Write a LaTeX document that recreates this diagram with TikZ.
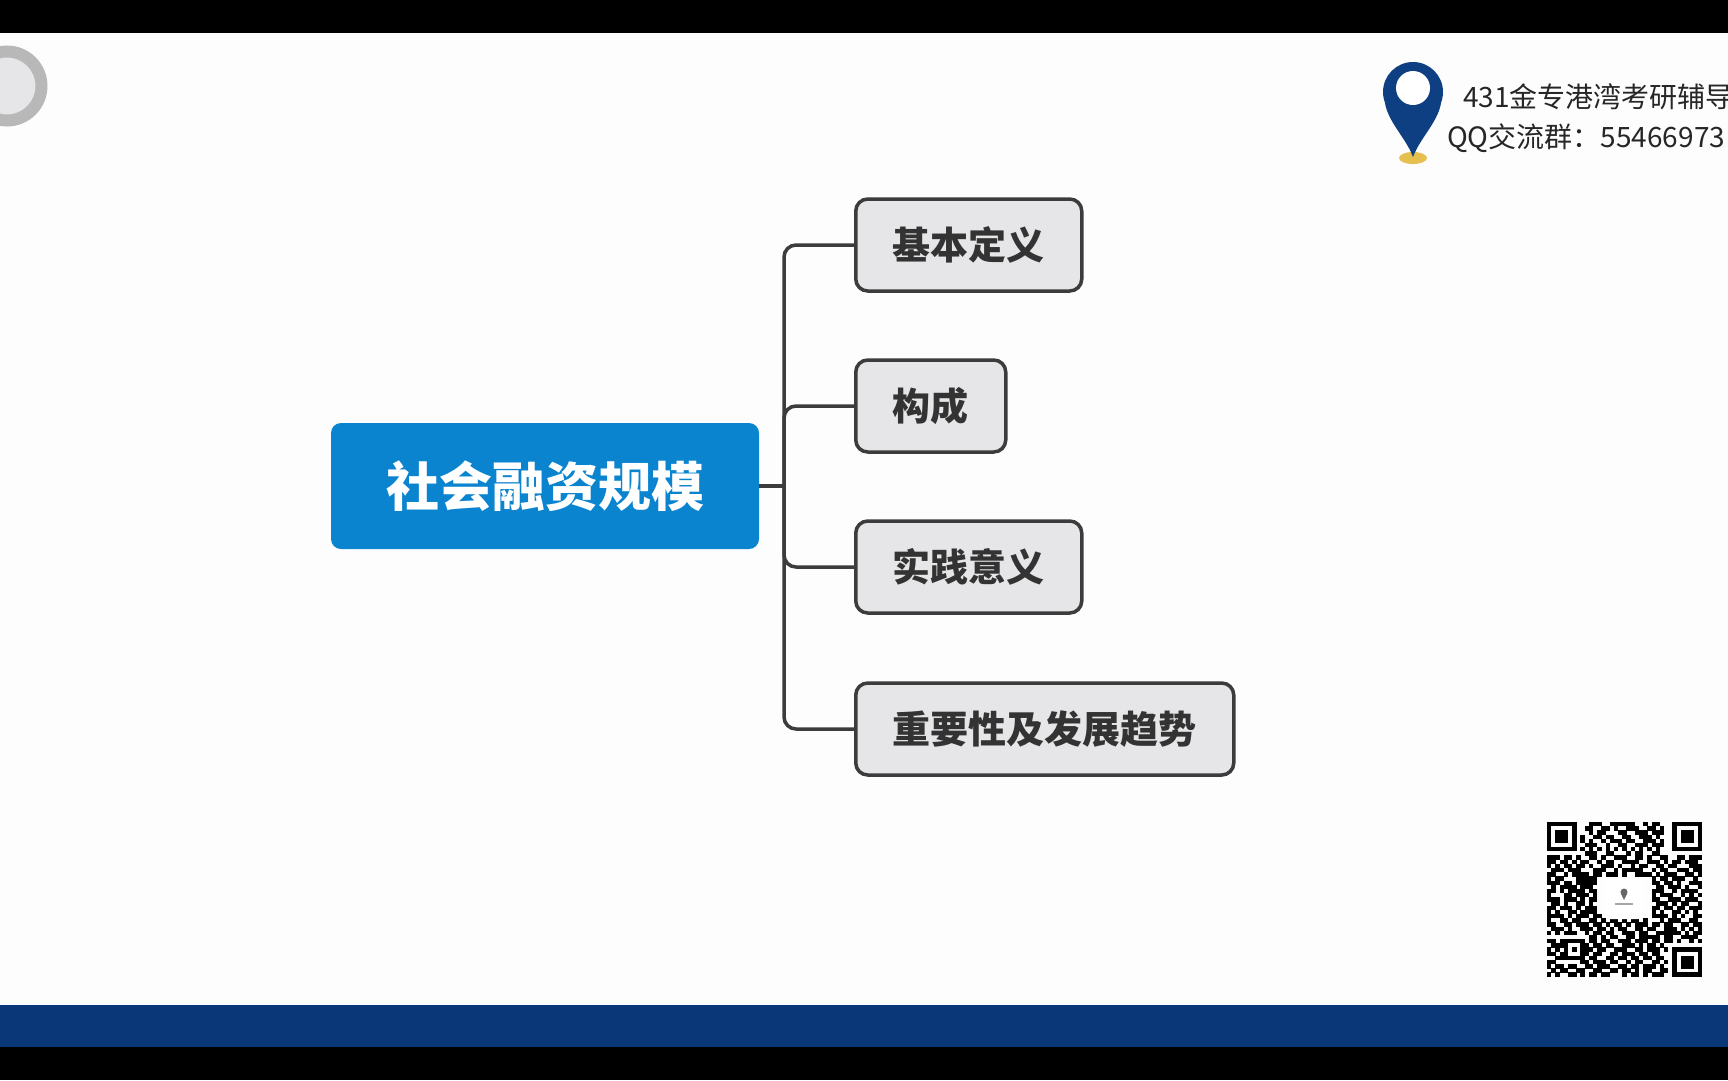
\documentclass[tikz,border=0pt]{standalone}
\usepackage{fontspec}
\usepackage{xcolor}
\setmainfont{Noto Sans CJK SC}

\definecolor{pageback}{HTML}{FDFDFD}
\definecolor{navyband}{HTML}{0A3778}
\definecolor{rootblue}{HTML}{0B84D0}
\definecolor{boxgrey}{HTML}{E6E5E8}
\definecolor{linegrey}{HTML}{3C3C3C}
\definecolor{pinblue}{HTML}{0E3F82}
\definecolor{pingold}{HTML}{E6C04E}

\tikzset{
    rootbox/.style={fill=rootblue, text=white, rounded corners=10pt, minimum width=428pt, minimum height=126pt, font=\fontsize{53}{60}\selectfont\bfseries},
    branchbox/.style={draw=linegrey, fill=boxgrey, line width=3.5pt, rounded corners=12pt, anchor=west, inner xsep=37pt, minimum height=92pt, font=\fontsize{38}{44}\selectfont\bfseries, text=black!80},
    link/.style={draw=linegrey, line width=3.5pt, rounded corners=12pt},
    infotext/.style={anchor=west, inner sep=0pt, font=\fontsize{28}{32}\selectfont, text=black!85}
}

\newcount\qrcol
\def\qrscan#1{\ifx.#1\let\qrnext\relax\else\if1#1\fill ({1547+\the\qrcol*4.18},{822+\qrrownum*4.18}) rectangle +(4.4,4.4);\fi\advance\qrcol by 1 \let\qrnext\qrscan\fi\qrnext}

\begin{document}
\begin{tikzpicture}[x=1pt, y=-1pt]
    \useasboundingbox (0,0) rectangle (1728,1080);
    \fill[pageback] (0,0) rectangle (1728,1080);
    \fill[black] (0,0) rectangle (1728,33);
    \fill[navyband] (0,1005) rectangle (1728,1047);
    \fill[black] (0,1047) rectangle (1728,1080);

    \filldraw[fill=boxgrey, draw=black!28, line width=12pt] (7,86) circle (34.5);

    \node[rootbox] (root) at (545,486) {社会融资规模};
    \node[branchbox] (define) at (854,245) {基本定义};
    \node[branchbox] (parts) at (854,406) {构成};
    \node[branchbox] (practice) at (854,567) {实践意义};
    \node[branchbox] (trend) at (854,729) {重要性及发展趋势};

    \coordinate (trunk) at (784,486);
    \draw[link] (root.east) -- (trunk);
    \draw[link] (trunk) |- (define.west);
    \draw[link] (trunk) |- (parts.west);
    \draw[link] (trunk) |- (practice.west);
    \draw[link] (trunk) |- (trend.west);

    \fill[pingold] (1413,158) ellipse (14 and 6);
    \fill[pinblue] (1413,92) circle (30);
    \fill[pinblue] (1413,157) .. controls (1406,138) and (1388,122) .. (1385,103) -- (1441,103) .. controls (1438,122) and (1420,138) .. (1413,157) -- cycle;
    \fill[white] (1413,88) circle (17);

    \begin{scope}
        \clip (0,0) rectangle (1728,1080);
        \node[infotext] (course) at (1463,97) {431金专港湾考研辅导};
        \node[infotext] (group) at (1447,138) {QQ交流群：55466973};
    \end{scope}

    \foreach \qrline [count=\qrrownum from 0] in {
        1111111 0 001110011111100101100 0 1111111,
        1000001 0 011001101001110011010 0 1000001,
        1011101 0 001011000110011101110 0 1011101,
        1011101 0 100110110011001110100 0 1011101,
        1011101 0 101001011101100111010 0 1011101,
        1000001 0 011100100110011101110 0 1000001,
        1111111 0 101010101010101010100 0 1111111,
        00000000 011100110001011001100 00000000,
        1110110100 1101001110 0110100110 0110111,
        1101101011 0010110011 1100111010 1101110,
        1010110110 1001110100 1011001101 1000111,
        0111011100 0111001011 1110010110 0111011,
        1100101111 0110111010 0111101011 1001101,
        1011000111 1100000000 0000010110 1110010,
        1110110111 1100000000 0000011011 0100111,
        0101111011 1000000000 0000001101 1101001,
        1101011110 1100000000 0000011100 1011110,
        1000110111 0100000000 0000010111 0010101,
        1110111010 1100000000 0000011001 1101110,
        0110100110 1000000000 0000001110 1011001,
        1101110101 1100000000 0000011011 0110111,
        1010011011 1100000000 0000010100 1101010,
        1111010111 0110000000 0000011110 1010011,
        1001101100 1101011010 1101000101 1100110,
        1100110111 0110101101 0111011011 0011011,
        0111010011 1011010110 0110110011 1010101,
        1010111001 0110110011 1011001111 1101011,
        0000000000 1101011001 1011111011 0011110,
        1101111110 1101100111 0111011011 0100101,
        0111100011 0110110011 1010110100 0000000,
        1010101011 1011001110 0110111010 1111111,
        1101100011 0110011011 1011011000 1000001,
        0011111110 1100110110 1101101100 1011101,
        1100000011 0111011001 0110011010 1011101,
        1011011001 1011100110 1101110100 1011101,
        0101100110 0110011011 0101100110 1000001,
        1010011010 1101100010 1101011100 1111111
    } {
        \qrcol=0
        \expandafter\qrscan\qrline.
    }

    \fill[white, rounded corners=6pt] (1604,879) rectangle (1644,919);
    \fill[black!60] (1624,892) circle (3.5);
    \fill[black!60] (1620.7,893) -- (1627.3,893) -- (1624,900) -- cycle;
    \fill[black!35] (1615,902.5) rectangle (1633,904.5);
\end{tikzpicture}
\end{document}
